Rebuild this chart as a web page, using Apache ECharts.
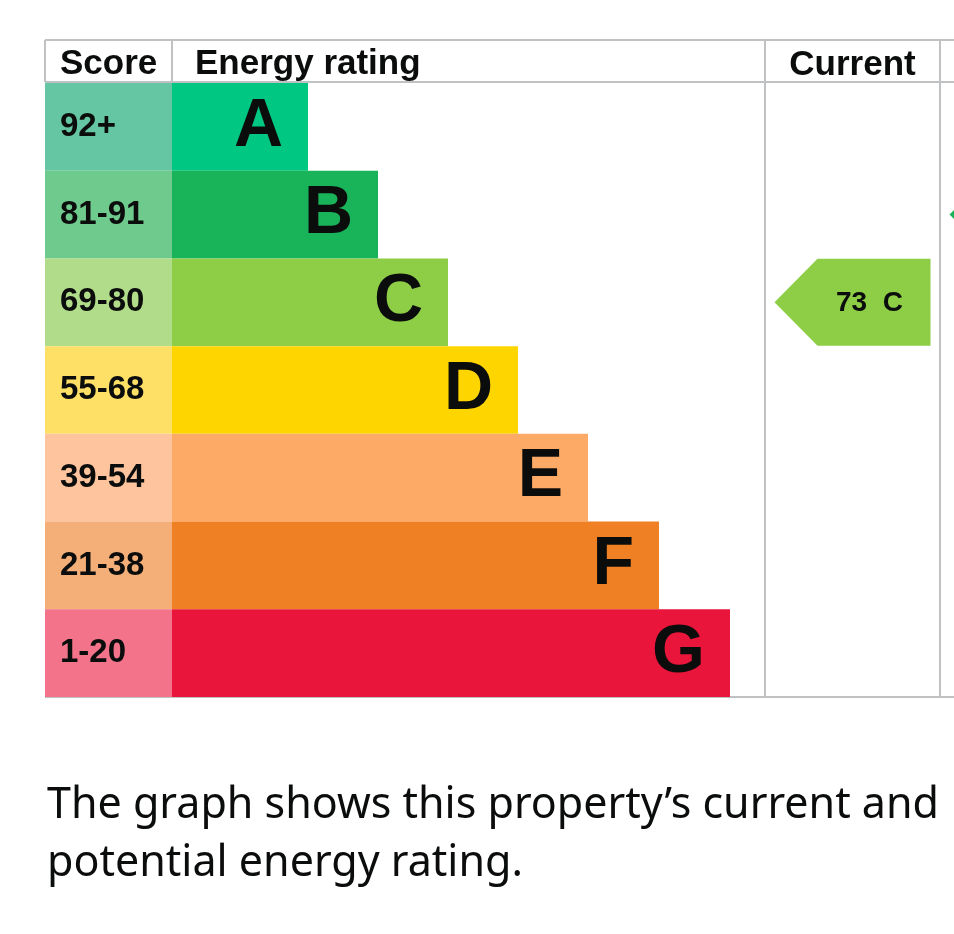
<!DOCTYPE html>
<html>
<head>
<meta charset="utf-8">
<script src="https://cdn.jsdelivr.net/npm/echarts@6/dist/echarts.min.js"></script>
<style>
  html, body { margin: 0; padding: 0; background: #fff; }
  #main { width: 954px; height: 934px; }
</style>
</head>
<body>
<div id="main"></div>
<script>
// energy bands, top to bottom
var bands = ['A', 'B', 'C', 'D', 'E', 'F', 'G'];
var scoreRanges = ['92+', '81-91', '69-80', '55-68', '39-54', '21-38', '1-20'];
// bar length of each band (px-ish units)
var bandLength = [136, 206, 276, 346, 416, 487, 558];
var bandColors = ['#00c781', '#19b459', '#8dce46', '#ffd500', '#fcaa65', '#ef8023', '#e9153b'];
var scoreColors = ['#64c6a2', '#6eca8d', '#b1dc8a', '#ffe066', '#fdc49d', '#f4ae77', '#f2738a'];
var columns = ['Current', 'Potential'];
// [column, band, score]
var ratings = [['Current', 'C', 73], ['Potential', 'B', 85]];

var ink = '#0b0c0c';
var lineColor = '#bfc1c3';
var boldFont = 'Liberation Sans';

var chart = echarts.init(document.getElementById('main'));

function colorOf(band) {
  return bandColors[bands.indexOf(band)];
}

chart.setOption({
  animation: false,
  grid: [
    { left: 45, top: 83, width: 127, height: 614, outerBoundsMode: 'none' },   // score column
    { left: 172, top: 83, width: 593, height: 614, outerBoundsMode: 'none' },  // band bars
    // current / potential, the potential column runs off the page
    { left: 765, top: 83, width: 350, height: 614, outerBoundsMode: 'none' }
  ],
  xAxis: [
    { gridIndex: 0, type: 'value', min: 0, max: 1, show: false },
    { gridIndex: 1, type: 'value', min: 0, max: 593, show: false },
    {
      gridIndex: 2, type: 'category', data: columns, position: 'top',
      axisLine: { show: false }, axisTick: { show: false }, splitLine: { show: false },
      axisLabel: {
        margin: 0, color: ink, fontFamily: boldFont, fontWeight: 'bold',
        fontSize: 35, lineHeight: 35, interval: 0
      }
    }
  ],
  yAxis: [0, 1, 2].map(function (i) {
    return { gridIndex: i, type: 'category', data: bands, inverse: true, show: false };
  }),
  series: [
    {
      type: 'bar', xAxisIndex: 0, yAxisIndex: 0, barCategoryGap: '0%',
      data: scoreRanges.map(function (s, i) {
        return { value: 1, name: s, itemStyle: { color: scoreColors[i] } };
      }),
      label: {
        show: true, position: 'insideLeft', distance: 15,
        formatter: function (p) { return scoreRanges[p.dataIndex]; },
        color: ink, fontFamily: boldFont, fontWeight: 'bold', fontSize: 33
      }
    },
    {
      type: 'bar', xAxisIndex: 1, yAxisIndex: 1, barCategoryGap: '0%',
      data: bandLength.map(function (v, i) {
        return { value: v, itemStyle: { color: bandColors[i] } };
      }),
      label: {
        show: true, position: 'insideRight', distance: 25,
        formatter: function (p) { return bands[p.dataIndex]; },
        color: ink, fontFamily: boldFont, fontWeight: 'bold', fontSize: 68
      }
    },
    {
      type: 'scatter', xAxisIndex: 2, yAxisIndex: 2, clip: false,
      symbol: 'path://M0,43.5 L43,0 L156,0 L156,87 L43,87 Z',
      symbolSize: [156, 87],
      data: ratings.map(function (r) {
        return { value: [r[0], r[1]], score: r[2], itemStyle: { color: colorOf(r[1]), opacity: 1 } };
      }),
      label: {
        show: true, position: 'inside', offset: [17, 1],
        formatter: function (p) { return p.data.score + '  ' + p.value[1]; },
        color: ink, fontFamily: boldFont, fontWeight: 'bold', fontSize: 28
      }
    }
  ],
  graphic: [
    // table rules
    { type: 'line', shape: { x1: 45, y1: 40, x2: 954, y2: 40 }, style: { stroke: lineColor, lineWidth: 2 } },
    { type: 'line', shape: { x1: 45, y1: 82, x2: 954, y2: 82 }, style: { stroke: lineColor, lineWidth: 2 } },
    { type: 'line', shape: { x1: 45, y1: 697, x2: 954, y2: 697 }, style: { stroke: lineColor, lineWidth: 2 } },
    { type: 'line', shape: { x1: 45, y1: 40, x2: 45, y2: 82 }, style: { stroke: lineColor, lineWidth: 2 } },
    { type: 'line', shape: { x1: 172, y1: 40, x2: 172, y2: 82 }, style: { stroke: lineColor, lineWidth: 2 } },
    { type: 'line', shape: { x1: 765, y1: 40, x2: 765, y2: 697 }, style: { stroke: lineColor, lineWidth: 2 } },
    { type: 'line', shape: { x1: 940, y1: 40, x2: 940, y2: 697 }, style: { stroke: lineColor, lineWidth: 2 } },
    // header texts
    { type: 'text', x: 60, y: 64, style: { text: 'Score', fill: ink, font: 'bold 35px "Liberation Sans"', verticalAlign: 'middle' } },
    { type: 'text', x: 195, y: 64, style: { text: 'Energy rating', fill: ink, font: 'bold 35px "Liberation Sans"', verticalAlign: 'middle' } },
    // caption below
    { type: 'text', x: 47, y: 806, style: { text: 'The graph shows this property\u2019s current and', fill: ink, font: '43px "Noto Sans"', verticalAlign: 'middle' } },
    { type: 'text', x: 47, y: 864, style: { text: 'potential energy rating.', fill: ink, font: '43px "Noto Sans"', verticalAlign: 'middle' } }
  ]
});
</script>
</body>
</html>
